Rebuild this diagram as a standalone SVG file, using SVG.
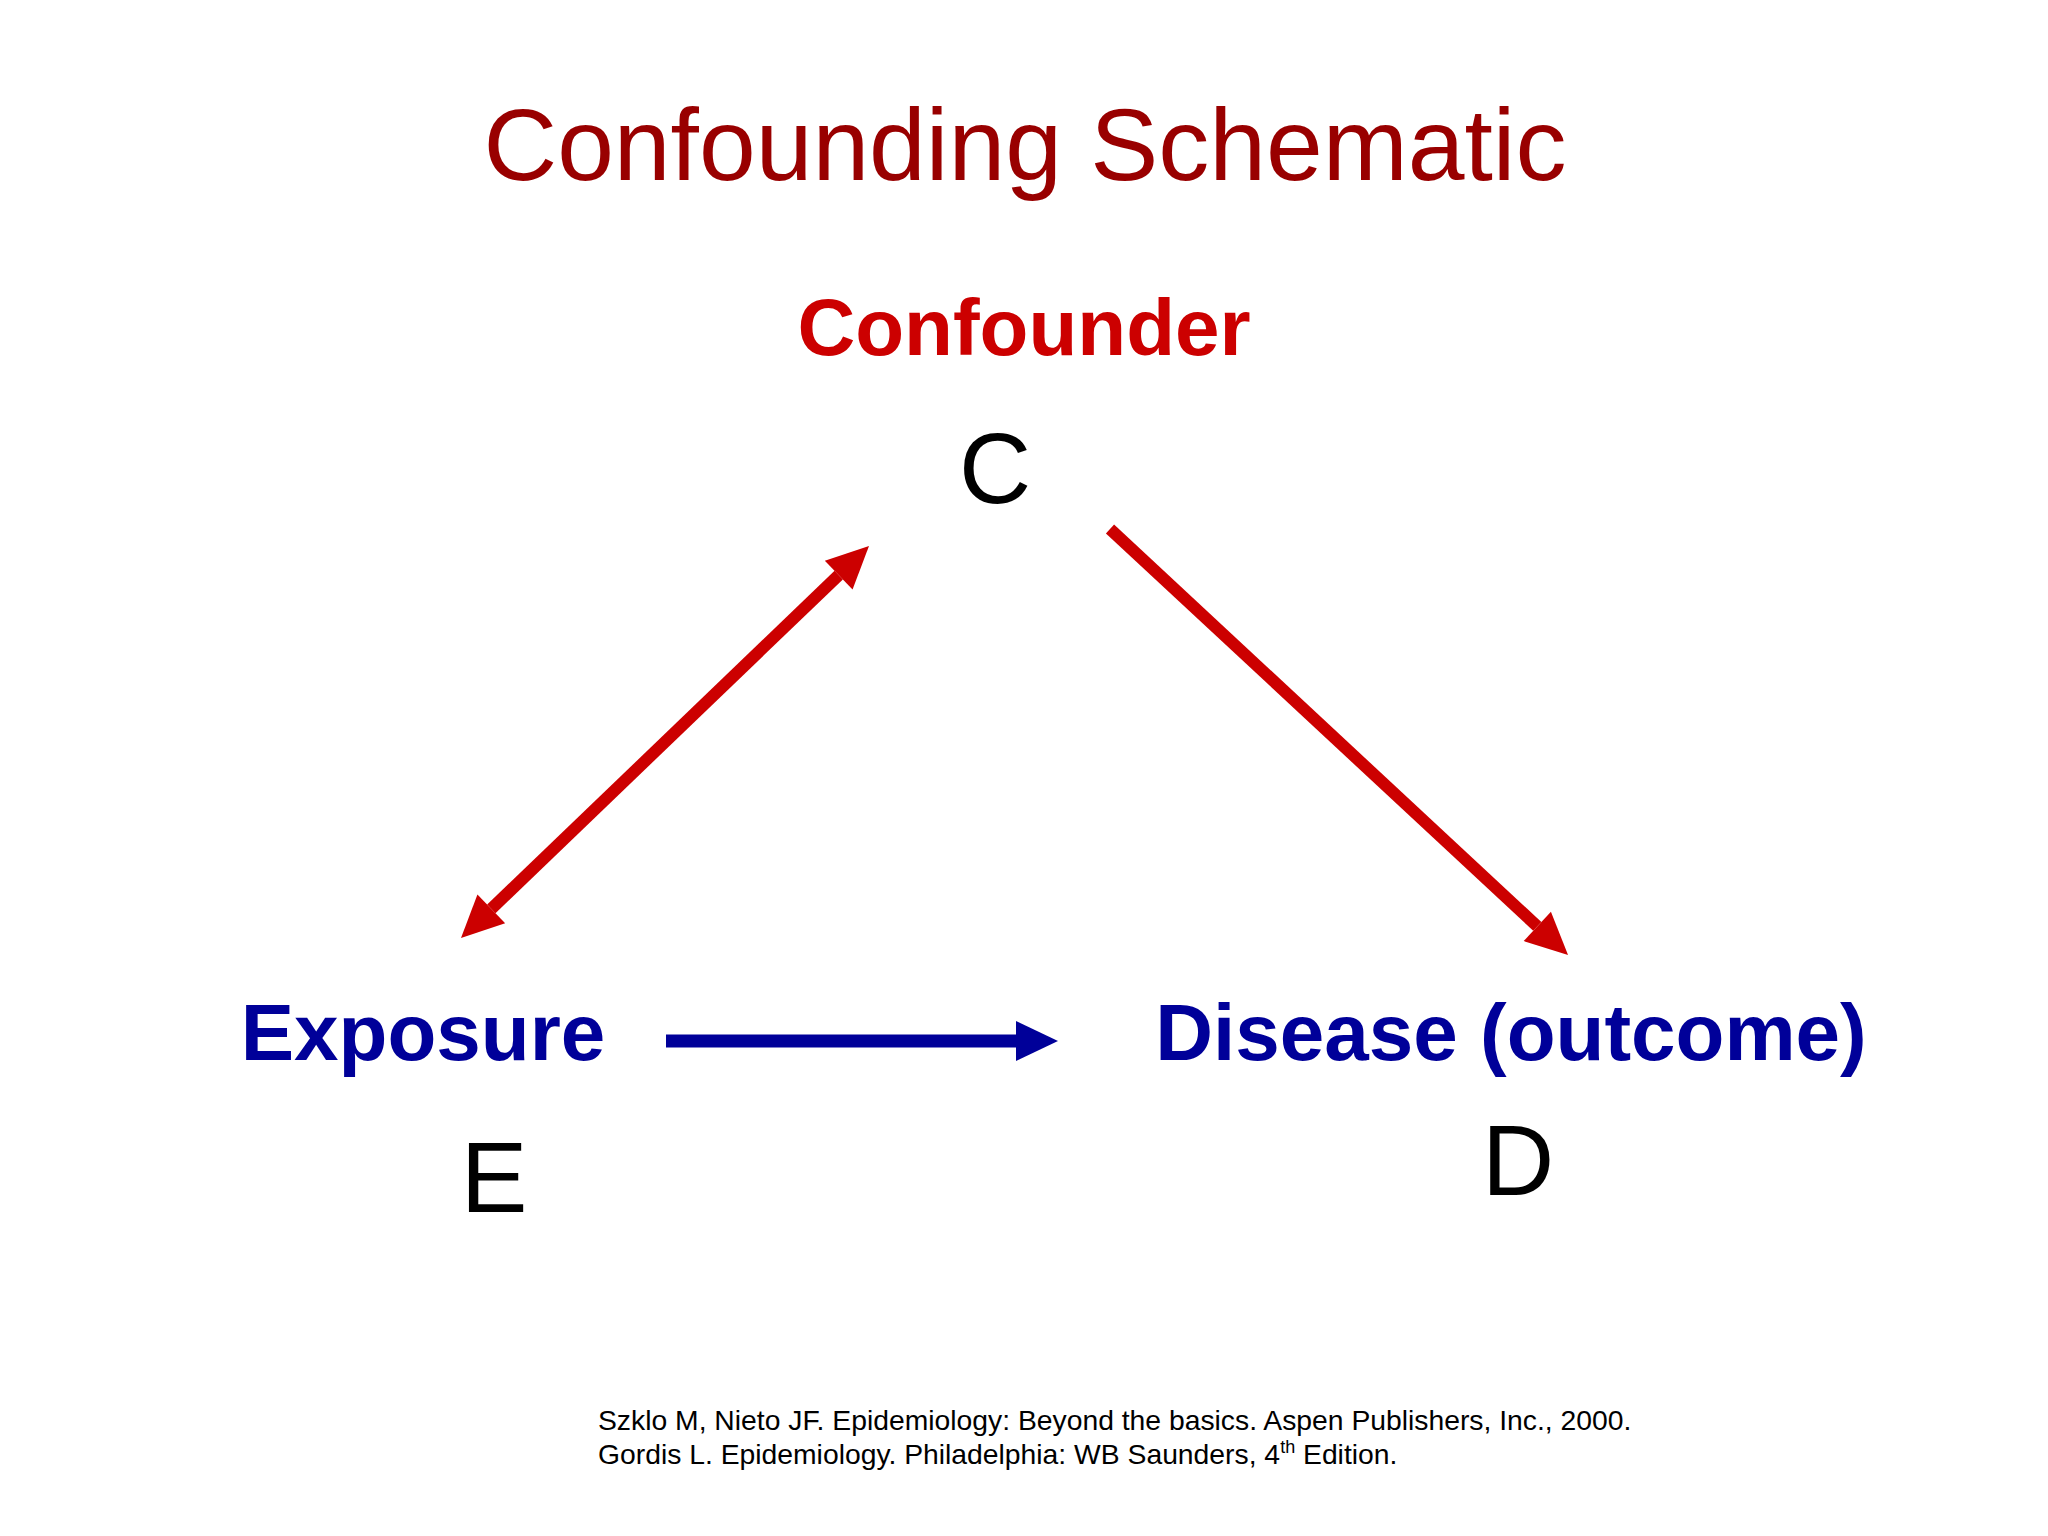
<svg xmlns="http://www.w3.org/2000/svg" width="2048" height="1536" viewBox="0 0 2048 1536">
<style>
.title{font-family:"Liberation Sans",Arial,sans-serif;font-size:102px;fill:#990000;}
.lab{font-family:"Liberation Sans",Arial,sans-serif;font-size:80px;font-weight:bold;}
.red{fill:#CC0000;}
.blue{fill:#000099;}
.letter{font-family:"Liberation Sans",Arial,sans-serif;font-size:100px;fill:#000000;}
.ref{font-family:"Liberation Sans",Arial,sans-serif;font-size:28.3px;fill:#000000;}
.rl{stroke:#CC0000;stroke-width:12;fill:none;}
.bl{stroke:#000099;stroke-width:13;fill:none;}
</style>
<defs>
<marker id="ahr" markerUnits="userSpaceOnUse" markerWidth="44" markerHeight="40" refX="0" refY="20" orient="auto-start-reverse" overflow="visible">
<path d="M0,0 L42,20 L0,40 z" fill="#CC0000"/>
</marker>
<marker id="ahb" markerUnits="userSpaceOnUse" markerWidth="44" markerHeight="40" refX="0" refY="20" orient="auto" overflow="visible">
<path d="M0,0 L42,20 L0,40 z" fill="#000099"/>
</marker>
</defs>
<rect width="2048" height="1536" fill="#ffffff"/>
<text class="title" x="1025" y="180" text-anchor="middle">Confounding Schematic</text>
<g id="node-C">
<text class="lab red" x="1024" y="355" text-anchor="middle">Confounder</text>
<text class="letter" x="995" y="503" text-anchor="middle">C</text>
</g>
<g id="node-E">
<text class="lab blue" x="423" y="1060" text-anchor="middle">Exposure</text>
<text class="letter" x="494" y="1212" text-anchor="middle">E</text>
</g>
<g id="node-D">
<text class="lab blue" x="1511" y="1060" text-anchor="middle">Disease (outcome)</text>
<text class="letter" x="1518" y="1195" text-anchor="middle">D</text>
</g>
<g id="connectors">
<path class="rl" d="M491.3,908.9 L838.7,575.1" marker-start="url(#ahr)" marker-end="url(#ahr)"/>
<path class="rl" d="M1110,529 L1537.3,926.4" marker-end="url(#ahr)"/>
<path class="bl" d="M666,1041 L1016,1041" marker-end="url(#ahb)"/>
</g>
<g id="references">
<text class="ref" x="598" y="1430">Szklo M, Nieto JF. Epidemiology: Beyond the basics. Aspen Publishers, Inc., 2000.</text>
<text class="ref" x="598" y="1464">Gordis L. Epidemiology. Philadelphia: WB Saunders, 4<tspan font-size="18" dy="-11">th</tspan><tspan dy="11"> Edition.</tspan></text>
</g>
</svg>
